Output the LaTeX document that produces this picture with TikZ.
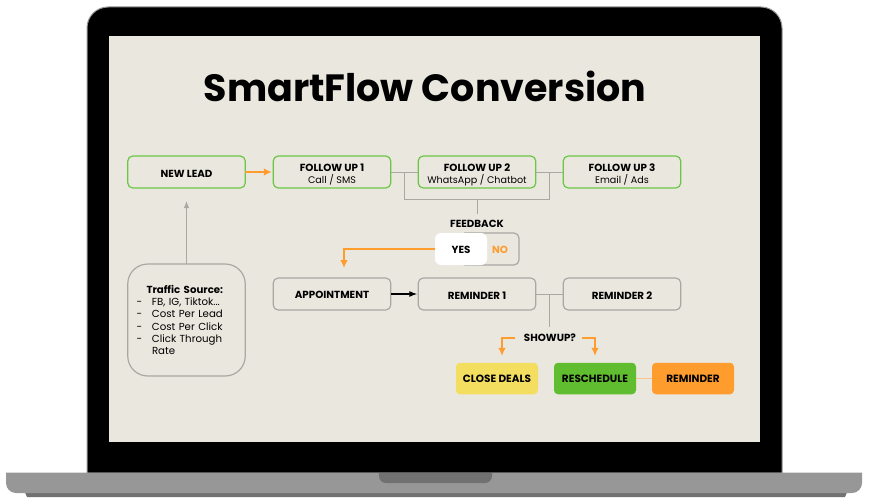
\documentclass[tikz,border=0pt]{standalone}
\usepackage{fontspec}
\setmainfont{Poppins}
\usetikzlibrary{positioning, arrows.meta, calc}
\definecolor{panel}{HTML}{EAE7DF}
\definecolor{leafgreen}{HTML}{6CC644}
\definecolor{linegrey}{HTML}{A9A8A3}
\definecolor{tiporange}{HTML}{FF9C2E}
\definecolor{dealyellow}{HTML}{F4DE60}
\definecolor{reschedgreen}{HTML}{5FBD2F}
\definecolor{lidgrey}{HTML}{979797}
\definecolor{darkgrey}{HTML}{717171}
\tikzset{
	box/.style={rounded corners=5pt, minimum width=117.5pt, minimum height=32pt, inner sep=0pt, outer sep=0pt, align=center, font=\fontsize{9.6}{12}\selectfont, line width=1.2pt},
	greenbox/.style={box, draw=leafgreen},
	greybox/.style={box, draw=linegrey},
	fillbox/.style={rounded corners=4pt, minimum width=82pt, minimum height=31.5pt, inner sep=0pt, outer sep=0pt, font=\fontsize{10.5}{12}\selectfont\bfseries},
	plain/.style={draw=linegrey, line width=0.9pt},
	orangearrow/.style={draw=tiporange, line width=1.2pt, -{Latex[length=8pt,width=7.5pt]}},
	caption/.style={inner sep=0pt, outer sep=0pt, font=\fontsize{10.3}{12}\selectfont\bfseries}
}
\newcommand{\boxtitle}[1]{{\fontsize{10.3}{12}\selectfont\bfseries #1}}
\newcommand{\oneline}[1]{\rule{0pt}{10pt}\boxtitle{#1}}
\newcommand{\twolines}[2]{\rule{0pt}{13pt}\boxtitle{#1}\\#2}
\newcommand{\trafficitem}[1]{\makebox[15.5pt][l]{-}#1}
\begin{document}
\begin{tikzpicture}[x=1pt, y=1pt, node distance=27.5pt]
	\useasboundingbox (0,0) rectangle (869,-503);
	% laptop
	\fill[black, draw=lidgrey, line width=1pt] (87,-473) -- (87,-28) arc[start angle=180, end angle=90, radius=21] -- (761,-7) arc[start angle=90, end angle=0, radius=21] -- (782,-473) -- cycle;
	\fill[panel] (109,-36) rectangle (760,-442);
	\fill[darkgrey] (24,-490) -- (848,-490) -- (845,-497) -- (27,-497) -- cycle;
	\fill[lidgrey] (6,-472.5) -- (862,-472.5) -- (862,-483) arc[start angle=0, end angle=-90, radius=10] -- (16,-493) arc[start angle=270, end angle=180, radius=10] -- cycle;
	\fill[darkgrey] (379,-473) -- (492,-473) -- (492,-476) arc[start angle=0, end angle=-90, radius=7] -- (386,-483) arc[start angle=270, end angle=180, radius=7] -- cycle;

	\node[inner sep=0pt, font=\fontsize{38}{40}\selectfont\bfseries] (title) at (425,-86.5) {SmartFlow Conversion};

	% top row
	\node[greenbox] (newlead) at (186.5,-172) {\oneline{NEW LEAD}};
	\node[greenbox, right=28pt of newlead] (followa) {\twolines{FOLLOW UP 1}{Call / SMS}};
	\node[greenbox, right=of followa] (followb) {\twolines{FOLLOW UP 2}{WhatsApp / Chatbot}};
	\node[greenbox, right=of followb] (followc) {\twolines{FOLLOW UP 3}{Email / Ads}};

	% feedback
	\node[caption] (feedback) at (477,-224) {FEEDBACK};
	\node[greybox, minimum width=59pt, text=tiporange] (nobox) at (489.5,-249) {\hspace*{21pt}\oneline{NO}};
	\node[fill=white, rounded corners=6pt, minimum width=52pt, minimum height=32pt, inner sep=0pt, outer sep=0pt] (yesbox) at (461,-249) {\oneline{YES}};

	% second row
	\node[greybox, below=90pt of followa] (appointment) {\oneline{APPOINTMENT}};
	\node[greybox, right=of appointment] (remindera) {\oneline{REMINDER 1}};
	\node[greybox, right=of remindera] (reminderb) {\oneline{REMINDER 2}};

	% outcome row
	\node[caption] (showup) at (550,-338) {SHOWUP?};
	\node[fillbox, fill=dealyellow] (closedeals) at (497,-378.5) {CLOSE DEALS};
	\node[fillbox, fill=reschedgreen] (reschedule) at (595,-378.5) {RESCHEDULE};
	\node[fillbox, fill=tiporange, right=16pt of reschedule] (reminderc) {REMINDER};

	\node[greybox, rounded corners=20pt, minimum height=112pt, text width=100pt, align=left, font=\fontsize{10.2}{12.35}\selectfont] (traffic) at (186.5,-320) {\hspace*{10pt}\textbf{Traffic Source:}\\\trafficitem{FB, IG, Tiktok...}\\\trafficitem{Cost Per Lead}\\\trafficitem{Cost Per Click}\\\trafficitem{Click Through}\\\hspace*{15.5pt}Rate};

	\coordinate (leftdrop) at ($(followa.east)+(13.5,0)$);
	\coordinate (rightdrop) at ($(followb.east)+(13.5,0)$);
	\coordinate (leftfoot) at ($(leftdrop)+(0,-27)$);
	\coordinate (rightfoot) at ($(rightdrop)+(0,-27)$);
	\coordinate (feedbackfoot) at (feedback.north |- leftfoot);
	\coordinate (feedbacktop) at (477,-213.5);
	\coordinate (yescorner) at (344,-249);
	\coordinate (yestip) at (344,-268);
	\coordinate (remindertap) at ($(remindera.east)+(13.5,0)$);
	\coordinate (showuptop) at (remindertap |- 0,-327);
	\coordinate (trafficend) at (186.5,-201);

	\draw[orangearrow] (newlead.east) -- ($(followa.west)+(-1.5,0)$);
	\draw[plain] (followa.east) -- (followb.west);
	\draw[plain] (followb.east) -- (followc.west);
	\draw[plain] (leftdrop) -- (leftfoot) -- (rightfoot) -- (rightdrop);
	\draw[plain] (feedbackfoot) -- (feedbacktop);
	\draw[orangearrow] (yesbox.west) -- (yescorner) -- (yestip);
	\draw[plain, -{Latex[length=7pt,width=5.5pt]}] (traffic.north) -- (trafficend);
	\draw[black, line width=1.1pt, -{Latex[length=8pt,width=6pt]}] (appointment.east) -- ($(remindera.west)+(-1,0)$);
	\draw[plain] (remindera.east) -- (reminderb.west);
	\draw[plain] (remindertap) -- (showuptop);
	\draw[orangearrow] ($(showup.west)+(-9,0)$) -| ($(closedeals.north)+(5,7)$);
	\draw[orangearrow] ($(showup.east)+(5.5,0)$) -| ($(reschedule.north)+(0,7)$);
	\draw[tiporange!45!panel, line width=0.8pt] (reschedule.east) -- (reminderc.west);
\end{tikzpicture}
\end{document}
